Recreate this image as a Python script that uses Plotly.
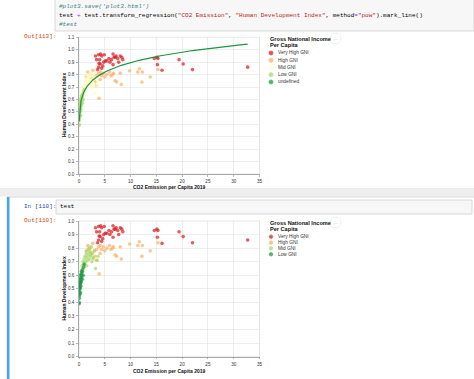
import numpy as np
import plotly.graph_objects as go

# ---------------- data ----------------
groups = ["Very High GNI", "High GNI", "Mid GNI", "Low GNI"]

very_high_x = [3.2, 3.8, 4.2, 4.4, 4.9, 3.4, 4.0, 5.1, 5.4, 6.0, 6.6, 6.8, 7.2, 7.5, 8.0, 8.3, 8.5, 7.7,
               6.6, 4.1, 3.8, 3.6, 4.4, 4.8, 14.6, 15.1, 15.3, 15.2, 16.1, 19.4, 20.2, 22.0, 32.7,
               5.8, 6.3, 7.0, 4.6, 3.9]
very_high_y = [0.95, 0.96, 0.965, 0.95, 0.96, 0.92, 0.92, 0.91, 0.91, 0.90, 0.965, 0.94, 0.95, 0.93, 0.95,
               0.94, 0.92, 0.90, 0.88, 0.885, 0.86, 0.84, 0.85, 0.90, 0.93, 0.94, 0.93, 0.88, 0.835, 0.92,
               0.885, 0.84, 0.86, 0.93, 0.92, 0.94, 0.87, 0.89]

high_x = [1.7, 2.1, 1.4, 2.5, 3.0, 3.4, 3.8, 3.1, 4.1, 4.4, 4.7, 5.4, 5.9, 6.2, 6.7, 7.0, 7.3, 8.0, 8.2,
          4.1, 3.4, 3.9, 11.7, 11.4, 12.3, 12.2, 13.8, 15.3, 2.7, 2.3, 5.0, 6.5, 9.8]
high_y = [0.82, 0.80, 0.78, 0.76, 0.78, 0.79, 0.81, 0.74, 0.76, 0.79, 0.81, 0.80, 0.82, 0.79, 0.81, 0.75,
          0.74, 0.81, 0.72, 0.82, 0.71, 0.61, 0.847, 0.82, 0.82, 0.74, 0.78, 0.84, 0.835, 0.77, 0.78, 0.80, 0.83]

mid_x = [0.3, 0.5, 0.6, 0.7, 0.8, 0.9, 1.0, 1.1, 1.2, 1.3, 1.4, 1.5, 1.6, 1.7, 1.8, 1.9, 2.0, 2.1, 2.2,
         2.4, 2.5, 2.6, 2.8, 3.0, 3.2, 3.5, 0.4, 0.6, 1.0, 1.5, 2.0, 2.3, 2.7, 3.7]
mid_y = [0.55, 0.60, 0.67, 0.63, 0.70, 0.66, 0.72, 0.68, 0.74, 0.70, 0.76, 0.73, 0.78, 0.71, 0.75, 0.80,
         0.72, 0.77, 0.74, 0.81, 0.70, 0.76, 0.73, 0.78, 0.65, 0.71, 0.58, 0.64, 0.69, 0.67, 0.79, 0.75,
         0.72, 0.74]

low_x = [0.03, 0.05, 0.06, 0.08, 0.1, 0.1, 0.12, 0.15, 0.17, 0.2, 0.22, 0.25, 0.28, 0.3, 0.33, 0.35, 0.4,
         0.42, 0.45, 0.5, 0.55, 0.6, 0.65, 0.7, 0.8, 0.9, 1.0, 0.3, 0.18, 0.12]
low_y = [0.39, 0.40, 0.43, 0.45, 0.48, 0.52, 0.46, 0.50, 0.53, 0.55, 0.51, 0.58, 0.54, 0.56, 0.60, 0.52,
         0.57, 0.61, 0.55, 0.63, 0.59, 0.62, 0.57, 0.64, 0.60, 0.66, 0.68, 0.47, 0.50, 0.54]

group_x = [very_high_x, high_x, mid_x, low_x]
group_y = [very_high_y, high_y, mid_y, low_y]

x_ticks = [0, 5, 10, 15, 20, 25, 30, 35]
legend1_labels = ["Very High GNI", "High GNI", "Mid GNI", "Low GNI", "undefined"]
legend2_labels = ["Very High GNI", "High GNI", "Mid GNI", "Low GNI"]

colors5 = ["#d7191c", "#fdae61", "#ffffbf", "#a6d96a", "#1a9641"]
colors4 = ["#d7191c", "#fdae61", "#a6d96a", "#1a9641"]

# ---------------- power regression (like vega's method="pow") ----------------
all_x = np.concatenate([np.array(v, float) for v in group_x])
all_y = np.concatenate([np.array(v, float) for v in group_y])
b, ln_a = np.polyfit(np.log(all_x), np.log(all_y), 1)
reg_x = np.geomspace(all_x.min(), all_x.max(), 300)
reg_y = np.exp(ln_a) * reg_x ** b

W, H = 474, 379
def px(x):
    return x / W
def py(y):
    return 1 - y / H

FONT = "Liberation Sans, Arial, sans-serif"
MONO = "Liberation Mono, DejaVu Sans Mono, monospace"

fig = go.Figure()

for i, g in enumerate(groups):
    fig.add_trace(go.Scatter(x=group_x[i], y=group_y[i], mode="markers", name=g,
                             xaxis="x", yaxis="y", showlegend=False,
                             marker=dict(size=3.6, color=colors5[i], opacity=0.7, line=dict(width=0))))
fig.add_trace(go.Scatter(x=reg_x, y=reg_y, mode="lines", name="undefined", xaxis="x", yaxis="y",
                         showlegend=False, line=dict(color=colors5[4], width=1.2)))
for i, g in enumerate(groups):
    fig.add_trace(go.Scatter(x=group_x[i], y=group_y[i], mode="markers", name=g,
                             xaxis="x2", yaxis="y2", showlegend=False,
                             marker=dict(size=3.6, color=colors4[i], opacity=0.7, line=dict(width=0))))

def xax(domain, anchor):
    return dict(domain=domain, anchor=anchor, range=[0, 35], tickvals=x_ticks, automargin=False,
                showgrid=True, gridcolor="#e3e3e3", gridwidth=0.6, zeroline=False,
                showline=True, linecolor="#888", linewidth=0.7,
                ticks="outside", ticklen=2, tickwidth=0.6, tickcolor="#888",
                tickfont=dict(size=4.6, color="#333", family=FONT), ticklabelstandoff=1)

def yax(domain, anchor, top):
    return dict(domain=domain, anchor=anchor, range=[0, top], dtick=0.1, tickformat=".1f", automargin=False,
                showgrid=True, gridcolor="#e3e3e3", gridwidth=0.6, zeroline=False,
                showline=True, linecolor="#888", linewidth=0.7,
                ticks="outside", ticklen=2, tickwidth=0.6, tickcolor="#888",
                tickfont=dict(size=4.6, color="#333", family=FONT), ticklabelstandoff=1)

x_dom = [px(79), px(259.5)]
y1_dom = [py(174), py(37.3)]
y2_dom = [py(356.7), py(221)]

shapes = []
annotations = []

# notebook chrome
shapes.append(dict(type="rect", xref="paper", yref="paper", x0=px(55), x1=px(474), y0=py(31), y1=py(-2),
                   fillcolor="#f7f7f7", line=dict(color="#cfcfcf", width=0.8), layer="below"))
shapes.append(dict(type="rect", xref="paper", yref="paper", x0=px(0), x1=px(474), y0=py(196.5), y1=py(188),
                   fillcolor="#eeeeee", line=dict(width=0), layer="below"))
shapes.append(dict(type="rect", xref="paper", yref="paper", x0=px(7), x1=px(480), y0=py(385), y1=py(197),
                   fillcolor="rgba(0,0,0,0)", line=dict(color="#cfcfcf", width=0.8), layer="below"))
shapes.append(dict(type="rect", xref="paper", yref="paper", x0=px(7), x1=px(9.5), y0=py(385), y1=py(197),
                   fillcolor="#42a5f5", line=dict(width=0), layer="below"))
shapes.append(dict(type="rect", xref="paper", yref="paper", x0=px(56), x1=px(472), y0=py(214), y1=py(200),
                   fillcolor="#f7f7f7", line=dict(color="#cfcfcf", width=0.8), layer="below"))

# plot frames (view border)
for yd in (y1_dom, y2_dom):
    shapes.append(dict(type="rect", xref="paper", yref="paper", x0=x_dom[0], x1=x_dom[1], y0=yd[0], y1=yd[1],
                       fillcolor="rgba(0,0,0,0)", line=dict(color="#dddddd", width=0.7), layer="below"))

def txt(x, y, text, size=6, color="#000", family=FONT, anchor="left", angle=0):
    annotations.append(dict(xref="paper", yref="paper", x=px(x), y=py(y), text=text, showarrow=False,
                            xanchor=anchor, yanchor="middle", textangle=angle,
                            font=dict(size=size, color=color, family=family)))

# code cell
S = "color:#ba2121"
O = "color:#aa22ff"
txt(57, 6.7, "<i>#plot3.save('plot3.html')</i>", size=6, color="#408080", family=MONO)
txt(57, 15.5, "test <span style='%s'>+</span> test.transform_regression(<span style='%s'>\"CO2 Emission\"</span>, "
             "<span style='%s'>\"Human Development Index\"</span>, method<span style='%s'>=</span>"
             "<span style='%s'>\"pow\"</span>).mark_line()" % (O, S, S, O, S), size=6, color="#000", family=MONO)
txt(57, 24, "<i>#test</i>", size=6, color="#408080", family=MONO)
txt(22, 36.7, "Out[113]:", size=6, color="#d84315", family=MONO)
txt(22, 206.7, "In [110]:", size=6, color="#303f9f", family=MONO)
txt(58, 206.7, "test", size=6, color="#000", family=MONO)
txt(22, 220.7, "Out[110]:", size=6, color="#d84315", family=MONO)

# axis titles
txt(169, 186.5, "<b>CO2 Emission per Capita 2019</b>", size=5, color="#111", anchor="center")
txt(169, 370.5, "<b>CO2 Emission per Capita 2019</b>", size=5, color="#111", anchor="center")
txt(63.5, 105.5, "<b>Human Development Index</b>", size=5, color="#111", anchor="center", angle=-90)
txt(63.5, 289, "<b>Human Development Index</b>", size=5, color="#111", anchor="center", angle=-90)

# legends (drawn manually)
def legend(ytitle, yitems, labels, cols, r):
    txt(267.5, ytitle, "<b>Gross National Income</b>", size=5.6, color="#111")
    txt(267.5, ytitle + 6, "<b>Per Capita</b>", size=5.6, color="#111")
    for yy, lab, c in zip(yitems, labels, cols):
        shapes.append(dict(type="circle", xref="paper", yref="paper",
                           x0=px(271 - r), x1=px(271 + r), y0=py(yy + r), y1=py(yy - r),
                           fillcolor=c, opacity=0.75, line=dict(color=c, width=0.6)))
        txt(275.5, yy, lab, size=4.8, color="#333")

legend(39.3, [53, 60.3, 67.5, 74.7, 82], legend1_labels, colors5, 2.1)
legend(222.5, [236.7, 242.6, 248.4, 254.3], legend2_labels, colors4, 1.8)

# "..." action buttons
for cy in (38.5, 222.5):
    shapes.append(dict(type="circle", xref="paper", yref="paper", x0=px(330), x1=px(341),
                       y0=py(cy + 5.5), y1=py(cy - 5.5), fillcolor="white",
                       line=dict(color="#e6e6e6", width=0.7)))
    txt(335.5, cy, "···", size=5, color="#aaa", anchor="center")

fig.update_layout(
    width=W, height=H, margin=dict(l=0, r=0, t=0, b=0, autoexpand=False),
    paper_bgcolor="white", plot_bgcolor="rgba(0,0,0,0)",
    xaxis=xax(x_dom, "y"), yaxis=yax(y1_dom, "x", 1.1),
    xaxis2=xax(x_dom, "y2"), yaxis2=yax(y2_dom, "x2", 1.0),
    shapes=shapes, annotations=annotations, showlegend=False,
    font=dict(family=FONT),
)

fig.write_html("out.html", config={"displayModeBar": False, "staticPlot": True},
               post_script="document.body.style.margin='0';document.body.style.overflow='hidden';")
